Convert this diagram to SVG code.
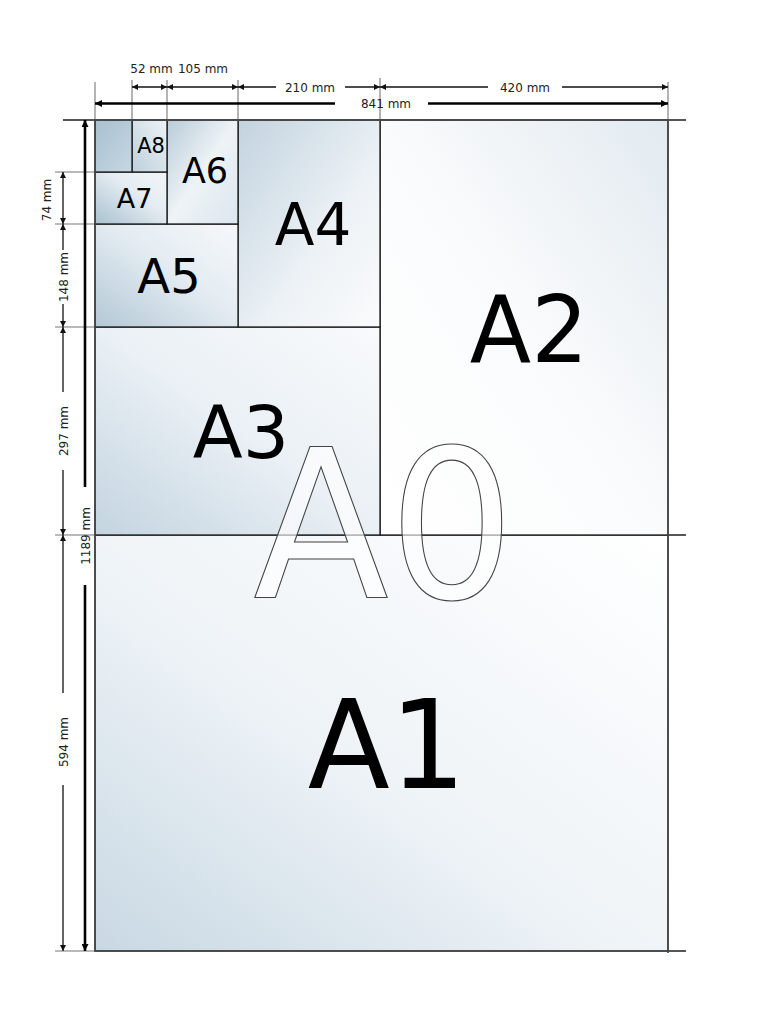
<svg xmlns="http://www.w3.org/2000/svg" width="768" height="1024" viewBox="0 0 768 1024">
<defs>
<style>
.sheet{stroke:#1a1a1a;stroke-width:1.3}
.lbl{font-family:"DejaVu Sans","Liberation Sans",sans-serif;fill:#000;text-anchor:middle}
.dim{font-family:"DejaVu Sans","Liberation Sans",sans-serif;font-size:12px;fill:#222;text-anchor:middle}
.dl{stroke:#111;stroke-width:1.3;fill:none}
.dt{stroke:#000;stroke-width:2.6;fill:none}
.ext{stroke:#777;stroke-width:1.1;fill:none}
.edge{stroke:#555;stroke-width:1.8;fill:none}
</style>
<marker id="ar" viewBox="0 0 10 10" refX="10" refY="5" markerWidth="7" markerHeight="6" markerUnits="userSpaceOnUse" orient="auto-start-reverse"><path d="M0,0 L10,5 L0,10 z" fill="#111"/></marker>
<marker id="arT" viewBox="0 0 10 10" refX="10" refY="5" markerWidth="9" markerHeight="7" markerUnits="userSpaceOnUse" orient="auto-start-reverse"><path d="M0,0 L10,5 L0,10 z" fill="#000"/></marker>
<linearGradient id="gA1" x1="0" y1="1" x2="1" y2="0"><stop offset="0" stop-color="#c8d8e3"/><stop offset="0.45" stop-color="#eef3f7"/><stop offset="1" stop-color="#ffffff"/></linearGradient>
<linearGradient id="gA2" x1="1" y1="0" x2="0" y2="1"><stop offset="0" stop-color="#e2eaf0"/><stop offset="0.5" stop-color="#fafbfc"/><stop offset="1" stop-color="#ffffff"/></linearGradient>
<linearGradient id="gA3" x1="0" y1="1" x2="1" y2="0"><stop offset="0" stop-color="#c3d4e0"/><stop offset="0.5" stop-color="#eaf0f5"/><stop offset="1" stop-color="#f8fafc"/></linearGradient>
<linearGradient id="gA4" x1="0" y1="0" x2="1" y2="1"><stop offset="0" stop-color="#c2d3df"/><stop offset="0.6" stop-color="#edf2f6"/><stop offset="1" stop-color="#fafbfc"/></linearGradient>
<linearGradient id="gA5" x1="0" y1="1" x2="1" y2="0"><stop offset="0" stop-color="#b3c8d6"/><stop offset="0.55" stop-color="#e4ecf2"/><stop offset="1" stop-color="#f6f8fa"/></linearGradient>
<linearGradient id="gA6" x1="0" y1="0" x2="1" y2="1"><stop offset="0" stop-color="#b8ccd9"/><stop offset="0.5" stop-color="#eef3f6"/><stop offset="1" stop-color="#dbe6ee"/></linearGradient>
<linearGradient id="gA7" x1="0" y1="1" x2="1" y2="0"><stop offset="0" stop-color="#a9c1d1"/><stop offset="0.6" stop-color="#e6edf2"/><stop offset="1" stop-color="#f0f4f7"/></linearGradient>
<linearGradient id="gA8" x1="0" y1="1" x2="1" y2="0"><stop offset="0" stop-color="#bcd0dc"/><stop offset="1" stop-color="#eef3f6"/></linearGradient>
<linearGradient id="gA8b" x1="0" y1="0" x2="1" y2="1"><stop offset="0" stop-color="#a8c0d0"/><stop offset="1" stop-color="#c6d7e2"/></linearGradient>
</defs>
<rect width="768" height="1024" fill="#ffffff"/>

<g id="sheet-A1"><rect class="sheet" x="95" y="535" width="573" height="416" fill="url(#gA1)"/><text class="lbl" transform="translate(387,788) scale(0.975,1)" font-size="123">A1</text></g>
<g id="sheet-A2"><rect class="sheet" x="380" y="120" width="288" height="415" fill="url(#gA2)"/><text class="lbl" transform="translate(529,362) scale(0.975,1)" font-size="92">A2</text></g>
<g id="sheet-A3"><rect class="sheet" x="95" y="327" width="285" height="208" fill="url(#gA3)"/><text class="lbl" x="241" y="458" font-size="73">A3</text></g>
<g id="sheet-A4"><rect class="sheet" x="238" y="120" width="142" height="207" fill="url(#gA4)"/><text class="lbl" x="313" y="245" font-size="58">A4</text></g>
<g id="sheet-A5"><rect class="sheet" x="95" y="224" width="143" height="103" fill="url(#gA5)"/><text class="lbl" x="169" y="293" font-size="48">A5</text></g>
<g id="sheet-A6"><rect class="sheet" x="167" y="120" width="71" height="104" fill="url(#gA6)"/><text class="lbl" x="205" y="183" font-size="35">A6</text></g>
<g id="sheet-A7"><rect class="sheet" x="95" y="172" width="72" height="52" fill="url(#gA7)"/><text class="lbl" x="134.5" y="208" font-size="27">A7</text></g>
<g id="sheet-A8"><rect class="sheet" x="132" y="120" width="35" height="52" fill="url(#gA8)"/><text class="lbl" x="151" y="153" font-size="21">A8</text></g>
<g id="sheet-A8-blank"><rect class="sheet" x="95" y="120" width="37" height="52" fill="url(#gA8b)"/></g>

<g id="connectors">
<path class="ext" d="M95,82 V120 M132,80 V120 M167,80 V120 M238,80 V120 M380,78 V120 M668,82 V120"/>
<path class="ext" d="M55,172 H95 M55,224 H95 M55,327 H95 M55,535 H95 M55,951 H95"/>
<path class="edge" d="M63,120 H686 M668,535 H686 M668,951 H686 M668,951 V953"/>
<path class="dl" d="M132,87 H167" marker-start="url(#ar)" marker-end="url(#ar)"/>
<path class="dl" d="M167,87 H238" marker-start="url(#ar)" marker-end="url(#ar)"/>
<path class="dl" d="M238,87 H276" marker-start="url(#ar)"/>
<path class="dl" d="M345,87 H380" marker-end="url(#ar)"/>
<path class="dl" d="M380,87 H488" marker-start="url(#ar)"/>
<path class="dl" d="M562,87 H668" marker-end="url(#ar)"/>
<path class="dt" d="M95,103.5 H335" marker-start="url(#arT)"/>
<path class="dt" d="M428,103.5 H668" marker-end="url(#arT)"/>
<path class="dl" d="M63,172 V224" marker-start="url(#ar)" marker-end="url(#ar)"/>
<path class="dl" d="M63,224 V250" marker-start="url(#ar)"/>
<path class="dl" d="M63,304 V327" marker-end="url(#ar)"/>
<path class="dl" d="M63,327 V392" marker-start="url(#ar)"/>
<path class="dl" d="M63,470 V535" marker-end="url(#ar)"/>
<path class="dl" d="M63,535 V693" marker-start="url(#ar)"/>
<path class="dl" d="M63,785 V951" marker-end="url(#ar)"/>
<path class="dt" d="M85,120 V487" marker-start="url(#arT)"/>
<path class="dt" d="M85,585 V951" marker-end="url(#arT)"/>
<text class="dim" x="151.5" y="73">52 mm</text>
<text class="dim" x="203" y="73">105 mm</text>
<text class="dim" x="310" y="92">210 mm</text>
<text class="dim" x="525" y="92">420 mm</text>
<text class="dim" x="386" y="108">841 mm</text>
<text class="dim" transform="translate(51,200) rotate(-90)">74 mm</text>
<text class="dim" transform="translate(68,277) rotate(-90)">148 mm</text>
<text class="dim" transform="translate(68,431) rotate(-90)">297 mm</text>
<text class="dim" transform="translate(68,742) rotate(-90)">594 mm</text>
<text class="dim" transform="translate(90,536) rotate(-90)">1189 mm</text>
</g>

<g id="sheet-A0">
<rect x="95" y="120" width="573" height="831" fill="none" stroke="#444" stroke-width="1.5"/>
<text class="lbl" transform="translate(384,598) scale(0.962,1)" font-size="206" stroke="#444" stroke-width="1.1" style="fill:#ffffff;fill-opacity:0.65">A0</text>
</g>
</svg>
